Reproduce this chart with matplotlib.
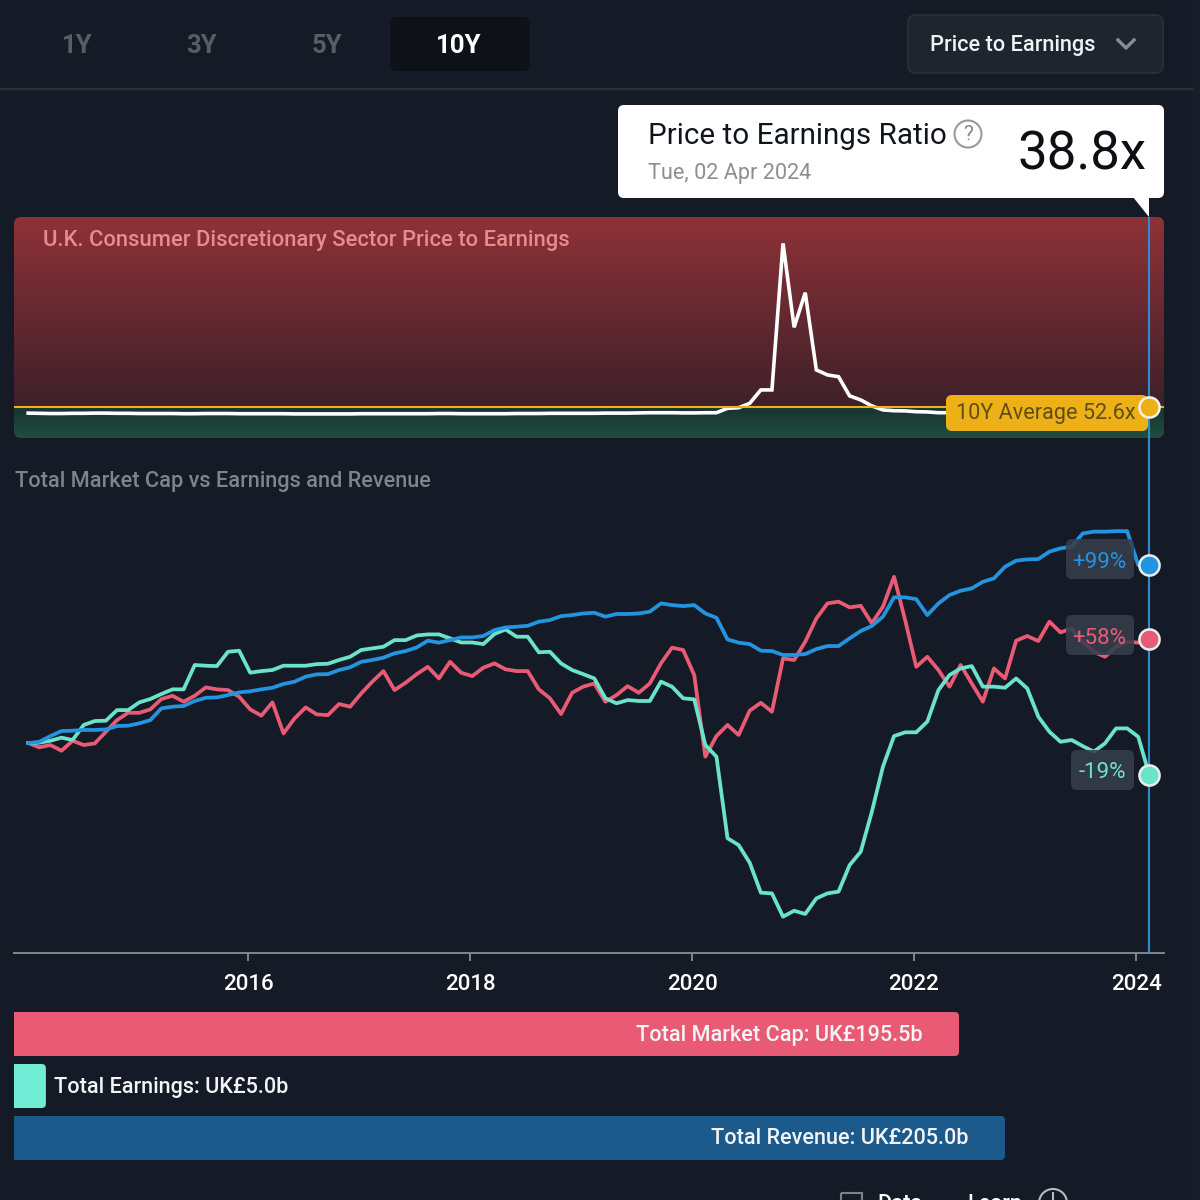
import numpy as np
import matplotlib
matplotlib.use("Agg")
import matplotlib.pyplot as plt
from matplotlib.colors import to_rgb
from matplotlib.patches import FancyBboxPatch, Circle, Polygon, Rectangle

plt.rcParams["font.family"] = ["Roboto", "DejaVu Sans"]

BG = "#141B26"
RED = "#E95B75"
TEAL = "#6BE3CB"
BLUE = "#2394DF"
AMBER = "#EEB017"

# one reading every tenth of a year
years = np.linspace(2014.02, 2024.12, 102)
year_ticks = [2016, 2018, 2020, 2022, 2024]

market_cap_pct = [
    0.0, -2.4, -1.1, -4.3, 1.3, -1.1, -0.2, 6.3, 12.8, 16.9,
    16.9, 18.8, 24.6, 26.4, 23.1, 26.4, 31.1, 30.0, 29.6, 25.9,
    18.8, 15.3, 22.7, 5.4, 13.8, 19.9, 16.0, 15.6, 21.8, 20.3,
    27.7, 34.3, 40.2, 29.6, 33.7, 38.5, 42.6, 36.1, 45.4, 39.3,
    37.4, 42.1, 44.5, 41.2, 40.2, 40.2, 30.0, 25.0, 16.2, 28.1,
    31.5, 33.3, 23.1, 26.8, 31.8, 28.1, 33.3, 44.5, 53.3, 52.0,
    38.0, -7.6, 3.9, 10.1, 4.5, 18.1, 22.5, 17.5, 47.3, 46.4,
    56.6, 69.6, 78.0, 79.0, 75.8, 76.7, 66.9, 76.2, 92.9, 68.7,
    42.6, 48.2, 40.8, 31.5, 43.6, 33.3, 23.1, 41.7, 36.1, 57.2,
    59.8, 57.0, 67.8, 61.8, 64.1, 56.6, 51.0, 48.2, 53.8, 56.6,
    56.1, 58.0,
]
earnings_pct = [
    0.0, 0.2, 1.3, 3.0, 1.7, 10.1, 12.3, 12.5, 18.4, 18.4,
    22.7, 24.6, 27.4, 30.0, 30.0, 43.6, 43.2, 43.0, 51.0, 51.6,
    39.3, 40.2, 40.8, 43.2, 43.2, 43.2, 44.1, 44.3, 46.4, 48.2,
    52.0, 52.9, 53.8, 57.5, 57.5, 60.1, 60.7, 60.7, 58.5, 56.2,
    56.2, 55.3, 60.9, 63.5, 59.4, 59.4, 50.7, 51.0, 44.5, 40.8,
    38.5, 36.1, 25.0, 22.2, 24.0, 23.5, 23.5, 34.3, 31.5, 25.0,
    24.4, -1.1, -7.6, -53.2, -57.0, -66.9, -83.6, -84.0, -97.0, -93.7,
    -95.5, -86.8, -84.0, -83.0, -68.2, -60.7, -38.4, -13.2, 3.9, 6.0,
    6.0, 12.0, 29.6, 38.0, 41.7, 43.0, 31.5, 31.5, 30.9, 36.1,
    30.5, 14.7, 6.3, 0.7, 1.7, -1.7, -4.8, -0.2, 8.2, 8.2,
    3.5, -18.0,
]
revenue_pct = [
    0.0, 0.7, 3.9, 6.7, 6.9, 7.3, 7.3, 7.6, 9.5, 9.7,
    11.0, 12.8, 19.4, 20.3, 20.7, 23.5, 25.3, 25.5, 26.8, 28.3,
    28.9, 30.0, 30.9, 33.0, 34.3, 37.1, 38.4, 38.5, 40.8, 42.3,
    45.4, 46.4, 47.7, 50.1, 51.4, 53.4, 57.2, 56.1, 57.5, 59.0,
    59.0, 59.8, 63.1, 64.6, 65.0, 65.5, 67.8, 68.7, 70.9, 71.5,
    72.4, 72.8, 70.6, 72.1, 72.1, 72.4, 73.4, 78.0, 77.1, 76.5,
    77.1, 72.4, 70.0, 57.9, 56.1, 55.3, 51.6, 51.4, 49.2, 49.2,
    49.7, 52.5, 54.2, 54.2, 58.5, 62.6, 65.4, 70.6, 81.4, 81.4,
    80.4, 71.5, 78.0, 82.7, 85.1, 86.4, 90.1, 92.0, 98.5, 101.9,
    102.6, 102.8, 106.9, 108.8, 109.7, 117.1, 118.1, 118.1, 118.4, 118.4,
    99.4, 99.5,
]
pe_ratio = [
    22, 21, 20, 20, 21, 21, 22, 22, 21, 21,
    20, 20, 20, 20, 19, 19, 20, 20, 20, 19,
    19, 19, 19, 19, 18, 18, 18, 18, 18, 18,
    19, 19, 19, 19, 19, 19, 19, 20, 20, 19,
    19, 19, 19, 19, 20, 20, 20, 21, 21, 21,
    21, 21, 22, 22, 22, 23, 24, 24, 24, 23,
    23, 24, 24, 46, 49, 71, 138, 138, 871, 451,
    624, 238, 213, 204, 108, 88, 58, 38, 34, 33,
    29, 28, 24, 24, 24, 24, 24, 24, 24, 24,
    24, 24, 24, 24, 24, 24, 24, 24, 24, 24,
    24, 38.8,
]
pe_average = 52.6

bar_names = ["Total Market Cap: UK£195.5b", "Total Earnings: UK£5.0b", "Total Revenue: UK£205.0b"]
bar_values = [195.5, 5.0, 205.0]
bar_colors = [RED, "#71ECD5", "#1B5A8A"]
tab_names = ["1Y", "3Y", "5Y", "10Y"]


def px_axes(fig, x0, y0, x1, y1, zorder):
    """ Axes placed by pixel box, y counted from the top of the picture. """
    ax = fig.add_axes([x0 / 1200, 1 - y1 / 1200, (x1 - x0) / 1200, (y1 - y0) / 1200], zorder=zorder)
    ax.patch.set_alpha(0)
    return ax


def round_box(ax, x0, y0, x1, y1, r, **kw):
    box = FancyBboxPatch((x0, y0), x1 - x0, y1 - y0, boxstyle="round,pad=0,rounding_size=%g" % r, **kw)
    ax.add_patch(box)
    return box


def gradient(top, bottom, n=200):
    a, b = np.array(to_rgb(top)), np.array(to_rgb(bottom))
    return np.linspace(a, b, n)[:, None, :]


fig = plt.figure(figsize=(12, 12), dpi=100, facecolor=BG)

# background layer, pixel coords
back = px_axes(fig, 0, 0, 1200, 1200, 0)
back.imshow(gradient("#8E3237", "#3E2029"), extent=(14, 1164, 407, 217), aspect="auto", zorder=1)
back.imshow(gradient("#16342E", "#1F4F40"), extent=(14, 1164, 438, 407), aspect="auto", zorder=1)
clip = round_box(back, 14, 217, 1164, 438, 7, fc="none", ec="none")
for im in back.images:
    im.set_clip_path(clip)
back.add_patch(Rectangle((1192, 0), 8, 1200, fc="#171E29", ec="none"))
back.plot([0, 1192], [89, 89], color="#2A303A", lw=1.6)
round_box(back, 390, 17, 530, 71, 6, fc="#0E1118", ec="none")
round_box(back, 908, 15, 1163, 73, 8, fc="#1F252F", ec="#2A303A", lw=1.2)
back.plot([1118, 1126, 1134], [40, 48, 40], color="#8A8D92", lw=2.4)
for name, x in zip(tab_names, [77, 202, 327, 459]):
    back.text(x, 46, name, color="white" if name == "10Y" else "#565D67", fontsize=18.5, fontweight="bold",
              ha="center", va="center")
back.text(930, 45, "Price to Earnings", color="#F0F2F4", fontsize=15.7, fontweight="medium", va="center")
back.text(15, 481, "Total Market Cap vs Earnings and Revenue", color="#7F848C", fontsize=15.7,
          fontweight="medium", va="center")
back.set_xlim(0, 1200)
back.set_ylim(1200, 0)
back.axis("off")

# P/E panel
ax_pe = px_axes(fig, 14, 217, 1164, 438, 1)
ax_pe.plot(years, pe_ratio, color="white", lw=2.6, solid_joinstyle="miter")
ax_pe.axhline(pe_average, color=AMBER, lw=1.5)
ax_pe.set_xlim(2013.892, 2024.252)
ax_pe.set_ylim(-102.4, 1002.6)
ax_pe.axis("off")
ax_pe.text(2014.155, 887, "U.K. Consumer Discretionary Sector Price to Earnings", color="#E88A8E", fontsize=15.8,
           fontweight="medium", va="center")

# indexed lines, top of the axes reaches the panel so the cursor line can share it
ax = px_axes(fig, 14, 217, 1164, 953, 2)
ax.plot(years, market_cap_pct, color=RED, lw=2.7)
ax.plot(years, earnings_pct, color=TEAL, lw=2.7)
ax.plot(years, revenue_pct, color=BLUE, lw=2.7)
ax.axvline(years[-1], color="#2E8BD0", lw=1.5)
ax.set_xlim(2013.892, 2024.252)
ax.set_ylim(-117.3, 293.9)
for side in ("top", "left", "right"):
    ax.spines[side].set_visible(False)
ax.spines["bottom"].set_color("#80858C")
ax.spines["bottom"].set_linewidth(1.4)
ax.set_yticks([])
ax.set_xticks(year_ticks)
ax.set_xticklabels([str(y) for y in year_ticks], fontsize=16, fontweight="medium", color="white")
ax.tick_params(axis="x", length=6, width=1.4, color="#80858C", pad=9)

# overlay with tooltip, pills and markers
front = px_axes(fig, 0, 0, 1200, 1200, 3)
round_box(front, 618, 105, 1164, 198, 6, fc="white", ec="none")
front.add_patch(Polygon([[1133, 197], [1149, 197], [1149, 217]], fc="white", ec="none"))
front.text(648, 136, "Price to Earnings Ratio", color="#10151C", fontsize=21.3, va="center")
front.text(648, 174, "Tue, 02 Apr 2024", color="#8A8F96", fontsize=15.6, va="center")
front.text(1147, 155, "38.8x", color="#0C0F14", fontsize=38, ha="right", va="center")
front.add_patch(Circle((968, 134), 13.5, fc="none", ec="#9A9A9A", lw=1.5))
front.text(968, 135, "?", color="#8A8A8A", fontsize=15, ha="center", va="center")
round_box(front, 946, 395, 1148, 431, 6, fc=AMBER, ec="none")
front.text(956, 414, "10Y Average 52.6x", color="#5F4D16", fontsize=15.6, va="center")
front.plot([1149], [407], "o", ms=14.5, mfc=AMBER, mec="#F6F2E6", mew=1.8)

pills = [(1066, 539, 579, "+99%", BLUE, revenue_pct[-1]),
         (1066, 615, 655, "+58%", RED, market_cap_pct[-1]),
         (1071, 750, 790, "-19%", TEAL, earnings_pct[-1])]
for x0, y0, y1, label, colour, value in pills:
    round_box(front, x0, y0, 1134, y1, 6, fc="#363E4C", ec="none", alpha=0.88)
    front.text(1126, (y0 + y1) / 2 + 3, label, color=colour, fontsize=16, ha="right", va="center")
    py = 743 - value * 1.79
    front.plot([1149], [py], "o", ms=14.5, mfc=colour, mec="#E8EEF0", mew=1.8)

# bottom strip, cut off by the picture edge as in the source
front.add_patch(Rectangle((841, 1193), 21, 20, fc="none", ec="#7E8288", lw=1.5))
front.text(877, 1205, "Data", color="white", fontsize=15.7, fontweight="medium", va="center")
front.text(967, 1205, "Learn", color="white", fontsize=15.7, fontweight="medium", va="center")
front.add_patch(Circle((1053, 1203), 14, fc="none", ec="#B8BBC0", lw=1.5))
front.plot([1053, 1053], [1193, 1200], color="#B8BBC0", lw=1.5)
front.set_xlim(0, 1200)
front.set_ylim(1200, 0)
front.axis("off")

# totals, drawn on their own value scale
ax_bars = px_axes(fig, 14, 1005, 1164, 1165, 2)
ax_bars.set_xlim(0, 1150 / 4.834)
ax_bars.set_ylim(160, 0)
ax_bars.axis("off")
min_width = 6.6
for row, (name, value, colour) in enumerate(zip(bar_names, bar_values, bar_colors)):
    width = max(value, min_width)
    top = 7 + row * 52
    box = FancyBboxPatch((0, top), width, 44, boxstyle="round,pad=0,rounding_size=0.9", mutation_aspect=4.834,
                         fc=colour, ec="none")
    ax_bars.add_patch(box)
    ax_bars.add_patch(Rectangle((0, top), width / 2, 44, fc=colour, ec="none"))
    if value > 100:
        ax_bars.text(value - 7.5, top + 23, name, color="#F4F4F6", fontsize=15.6, fontweight="medium",
                     ha="right", va="center")
    else:
        ax_bars.text(width + 1.6, top + 23, name, color="#F4F4F6", fontsize=15.6, fontweight="medium", va="center")

fig.savefig("out.png", dpi=100, facecolor=BG)
